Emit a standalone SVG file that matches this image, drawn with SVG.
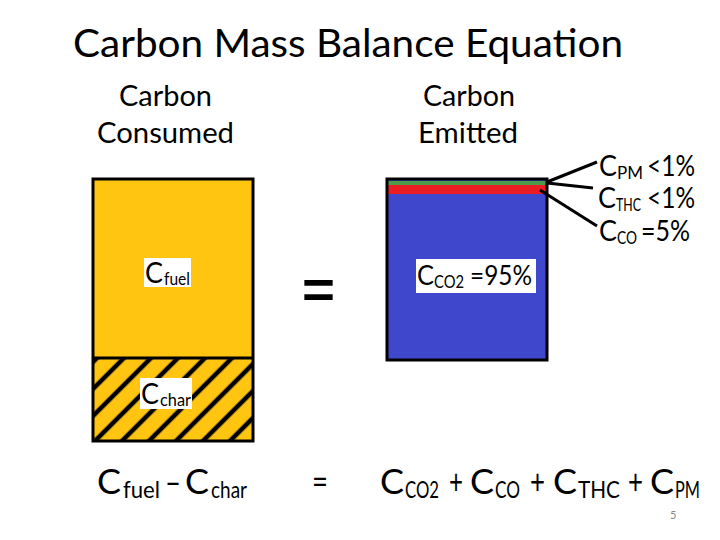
<svg xmlns="http://www.w3.org/2000/svg" width="720" height="540" viewBox="0 0 720 540">
  <style>
    text { font-family: Lato, "Open Sans", "Liberation Sans", sans-serif; fill: #000; }
    .title { font-size: 38px; }
    .head { font-size: 28px; }
    .big { font-size: 28px; }
    .sub { font-size: 18px; }
    .eq { font-size: 35px; }
    .eqs { font-size: 24px; }
    .box { stroke: #000; stroke-width: 3; }
    .lbl { fill: #fff; }
    .conn { stroke: #000; stroke-width: 3; fill: none; }
  </style>
  <defs>
    <pattern id="hatch" patternUnits="userSpaceOnUse" width="19.09" height="19.09" patternTransform="rotate(45)">
      <rect width="19.09" height="19.09" fill="#FFC511"/>
      <line x1="16.26" y1="-1" x2="16.26" y2="21" stroke="#000" stroke-width="4.5"/>
    </pattern>
  </defs>
  <rect width="720" height="540" fill="#fff"/>

  <g id="title">
    <text class="title" x="73" y="57" textLength="550" lengthAdjust="spacingAndGlyphs">Carbon Mass Balance Equation</text>
  </g>

  <g id="head-consumed">
    <text class="head" x="119" y="106" textLength="93" lengthAdjust="spacingAndGlyphs">Carbon</text>
    <text class="head" x="97" y="143" textLength="137" lengthAdjust="spacingAndGlyphs">Consumed</text>
  </g>
  <g id="head-emitted">
    <text class="head" x="423" y="106" textLength="92" lengthAdjust="spacingAndGlyphs">Carbon</text>
    <text class="head" x="418" y="143" textLength="100" lengthAdjust="spacingAndGlyphs">Emitted</text>
  </g>

  <g id="consumed-box">
    <rect x="93" y="179" width="160" height="179" fill="#FFC511"/>
    <rect x="93" y="358" width="160" height="83" fill="url(#hatch)"/>
    <rect class="box" x="93" y="179" width="160" height="262" fill="none"/>
    <line class="box" x1="93" y1="358" x2="253" y2="358"/>
  </g>
  <g id="label-cfuel">
    <rect class="lbl" x="144" y="258" width="47" height="29"/>
    <text x="145" y="283" style="font-size:28px" textLength="18" lengthAdjust="spacingAndGlyphs">C</text>
    <text x="164" y="285" style="font-size:17px" textLength="26" lengthAdjust="spacingAndGlyphs">fuel</text>
  </g>
  <g id="label-cchar">
    <rect class="lbl" x="140" y="378" width="52" height="31"/>
    <text x="141" y="404" style="font-size:28px" textLength="18" lengthAdjust="spacingAndGlyphs">C</text>
    <text x="160" y="406" style="font-size:17px" textLength="31" lengthAdjust="spacingAndGlyphs">char</text>
  </g>

  <g id="equals-mid">
    <text x="302" y="308" style="font-family:'Liberation Sans',sans-serif;font-size:54px;font-weight:bold" textLength="33" lengthAdjust="spacingAndGlyphs">=</text>
  </g>

  <g id="emitted-box">
    <rect x="387" y="179" width="160" height="181" fill="#3F48CC"/>
    <rect x="387" y="181" width="160" height="4" fill="#4E9A4B"/>
    <rect x="387" y="185" width="160" height="9" fill="#EC1C24"/>
    <rect class="box" x="387" y="179" width="160" height="181" fill="none"/>
  </g>
  <g id="label-cco2">
    <rect class="lbl" x="416" y="259" width="120" height="34"/>
    <text x="417" y="285" style="font-size:27px" textLength="17" lengthAdjust="spacingAndGlyphs">C</text>
    <text x="434" y="288" style="font-size:17px" textLength="30" lengthAdjust="spacingAndGlyphs">CO2</text>
    <text x="470" y="285" style="font-size:27px" textLength="62" lengthAdjust="spacingAndGlyphs">=95%</text>
  </g>

  <g id="connectors">
    <line class="conn" x1="547" y1="182" x2="597" y2="162"/>
    <line class="conn" x1="547" y1="183" x2="593" y2="188"/>
    <line class="conn" x1="540" y1="190" x2="597" y2="226"/>
  </g>

  <g id="label-cpm">
    <text class="big" x="599" y="176" textLength="18" lengthAdjust="spacingAndGlyphs">C</text>
    <text class="sub" x="617" y="179" textLength="26" lengthAdjust="spacingAndGlyphs">PM</text>
    <text class="big" x="647" y="176" textLength="48" lengthAdjust="spacingAndGlyphs">&lt;1%</text>
  </g>
  <g id="label-cthc">
    <text class="big" x="598" y="208" textLength="18" lengthAdjust="spacingAndGlyphs">C</text>
    <text class="sub" x="616" y="211" textLength="25" lengthAdjust="spacingAndGlyphs">THC</text>
    <text class="big" x="647" y="208" textLength="48" lengthAdjust="spacingAndGlyphs">&lt;1%</text>
  </g>
  <g id="label-cco">
    <text class="big" x="599" y="241" textLength="18" lengthAdjust="spacingAndGlyphs">C</text>
    <text class="sub" x="617" y="244" textLength="20" lengthAdjust="spacingAndGlyphs">CO</text>
    <text class="big" x="641" y="241" textLength="49" lengthAdjust="spacingAndGlyphs">=5%</text>
  </g>

  <g id="equation-left">
    <text class="eq" x="97" y="494" textLength="24" lengthAdjust="spacingAndGlyphs">C</text>
    <text class="eqs" x="123" y="498" textLength="37" lengthAdjust="spacingAndGlyphs">fuel</text>
    <text class="eq" x="165" y="494" textLength="16" lengthAdjust="spacingAndGlyphs">–</text>
    <text class="eq" x="185" y="494" textLength="24" lengthAdjust="spacingAndGlyphs">C</text>
    <text class="eqs" x="211" y="498" textLength="36" lengthAdjust="spacingAndGlyphs">char</text>
  </g>
  <g id="equation-equals">
    <text class="eq" x="312" y="494" textLength="16" lengthAdjust="spacingAndGlyphs">=</text>
  </g>
  <g id="equation-right">
    <text class="eq" x="380" y="494" textLength="24" lengthAdjust="spacingAndGlyphs">C</text>
    <text class="eqs" x="405" y="498" textLength="34" lengthAdjust="spacingAndGlyphs">CO2</text>
    <text class="eq" x="449" y="494" textLength="14" lengthAdjust="spacingAndGlyphs">+</text>
    <text class="eq" x="470" y="494" textLength="24" lengthAdjust="spacingAndGlyphs">C</text>
    <text class="eqs" x="495" y="498" textLength="25" lengthAdjust="spacingAndGlyphs">CO</text>
    <text class="eq" x="530" y="494" textLength="15" lengthAdjust="spacingAndGlyphs">+</text>
    <text class="eq" x="553" y="494" textLength="24" lengthAdjust="spacingAndGlyphs">C</text>
    <text class="eqs" x="578" y="498" textLength="42" lengthAdjust="spacingAndGlyphs">THC</text>
    <text class="eq" x="628" y="494" textLength="15" lengthAdjust="spacingAndGlyphs">+</text>
    <text class="eq" x="650" y="494" textLength="24" lengthAdjust="spacingAndGlyphs">C</text>
    <text class="eqs" x="675" y="498" textLength="25" lengthAdjust="spacingAndGlyphs">PM</text>
  </g>

  <g id="page-number">
    <text x="670" y="519" style="font-size:11px;fill:#888">5</text>
  </g>
</svg>
